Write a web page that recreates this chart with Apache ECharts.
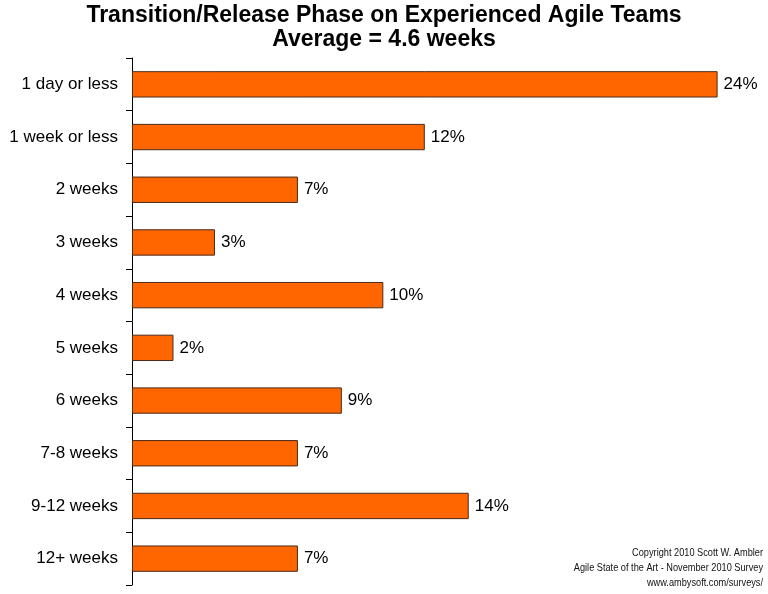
<!DOCTYPE html>
<html>
<head>
<meta charset="utf-8">
<script src="https://cdn.jsdelivr.net/npm/echarts@6/dist/echarts.min.js"></script>
<style>
  html, body { margin: 0; padding: 0; background: #fff; }
  #chart { width: 768px; height: 594px; }
</style>
</head>
<body>
<div id="chart"></div>
<script>
// 数据 (labels show the rounded value)
const categories = ['1 day or less', '1 week or less', '2 weeks', '3 weeks', '4 weeks',
                    '5 weeks', '6 weeks', '7-8 weeks', '9-12 weeks', '12+ weeks'];
const percents = [24.0, 12.0, 6.8, 3.4, 10.3, 1.7, 8.6, 6.8, 13.8, 6.8];
const titleLines = ['Transition/Release Phase on Experienced Agile Teams', 'Average = 4.6 weeks'];
const creditLines = ['Copyright 2010 Scott W. Ambler',
                     'Agile State of the Art - November 2010 Survey',
                     'www.ambysoft.com/surveys/'];

const chart = echarts.init(document.getElementById('chart'));
const font = 'Liberation Sans, Arial, sans-serif';

// credit lines, right aligned and squeezed a bit like the original narrow font
const credits = creditLines.map((line, i) => ({
    type: 'text',
    x: 763,
    y: 553 + i * 15,
    scaleX: 0.8,
    style: {
        text: line,
        align: 'right',
        textAlign: 'right',
        verticalAlign: 'middle',
        textVerticalAlign: 'middle',
        font: '11.5px "Liberation Sans", Arial, sans-serif',
        fill: '#111'
    }
}));

const option = {
    animation: false,
    title: {
        text: titleLines.join('\n'),
        left: 'center',
        top: -1,
        textStyle: { fontFamily: font, fontSize: 23, fontWeight: 'bold', color: '#000', lineHeight: 24 }
    },
    graphic: credits,
    grid: { left: 132, right: 26, top: 58, bottom: 9, containLabel: false },
    xAxis: {
        type: 'value',
        min: 0,
        max: 25,
        show: false
    },
    yAxis: {
        type: 'category',
        inverse: true,
        data: categories,
        axisLine: { lineStyle: { color: '#000', width: 1 } },
        axisTick: { show: true, length: 6, lineStyle: { color: '#000' } },
        axisLabel: { fontFamily: font, fontSize: 17, color: '#000', margin: 14 },
        splitLine: { show: false }
    },
    series: [{
        type: 'bar',
        data: percents,
        barCategoryGap: '50%',
        itemStyle: { color: '#FF6600', borderColor: '#4a2a1a', borderWidth: 1 },
        label: {
            show: true,
            position: 'right',
            distance: 6,
            fontFamily: font,
            fontSize: 17,
            color: '#000',
            formatter: p => Math.round(p.value) + '%'
        }
    }]
};

chart.setOption(option);
</script>
</body>
</html>
